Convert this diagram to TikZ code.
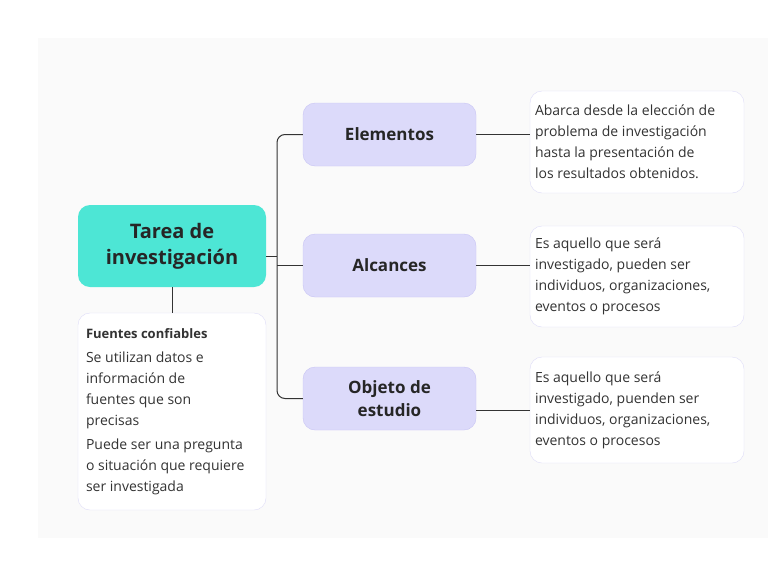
\documentclass[tikz,border=0pt]{standalone}
\usepackage{fontspec}
\setmainfont{Open Sans}
\begin{document}
\begin{tikzpicture}[x=1pt,y=-1pt,
 main/.style={fill=maincol,rounded corners=12pt,align=center,font=\fontsize{20}{26}\selectfont\bfseries,text=black!85},
 sub/.style={fill=subfill,draw=subdraw,rounded corners=12pt,align=center,font=\fontsize{17}{23}\selectfont\bfseries,text=black!85},
 desc/.style={fill=white,draw=subdraw!60,rounded corners=12pt,align=flush left,font=\fontsize{14}{21}\selectfont,text=black!80},
 ln/.style={draw=black!80,line width=1pt}]
\definecolor{maincol}{HTML}{4DE6D5}
\definecolor{subfill}{HTML}{DCDAFA}
\definecolor{subdraw}{HTML}{C8C4F4}
\useasboundingbox (0,0) rectangle (768,576);
\fill[white] (0,0) rectangle (768,576);
\fill[black!2] (38,38) rectangle (768,538);
\node[main,minimum width=188pt,minimum height=82pt] (m) at (172,246) {Tarea de\\investigación};
\node[sub,minimum width=173pt,minimum height=63pt] (e) at (389.5,134.5) {Elementos};
\node[sub,minimum width=173pt,minimum height=63pt] (a) at (389.5,265.5) {Alcances};
\node[sub,minimum width=173pt,minimum height=63pt] (o) at (389.5,398.5) {Objeto de\\estudio};
\node[desc,minimum width=214pt,minimum height=102pt,text width=204pt] (d1) at (637,142) {Abarca desde la elección de\\problema de investigación\\hasta la presentación de\\los resultados obtenidos.};
\node[desc,minimum width=214pt,minimum height=101pt,text width=204pt] (d2) at (637,276.5) {Es aquello que será\\investigado, pueden ser\\individuos, organizaciones,\\eventos o procesos};
\node[desc,minimum width=214pt,minimum height=106pt,text width=204pt] (d3) at (637,410) {Es aquello que será\\investigado, puenden ser\\individuos, organizaciones,\\eventos o procesos};
\node[desc,minimum width=188pt,minimum height=197pt,text width=172pt,font=\fontsize{14}{21}\selectfont] (f) at (172,411.5) {{\bfseries\fontsize{13}{18}\selectfont Fuentes confiables}\\[3pt]Se utilizan datos e\\información de\\fuentes que son\\precisas\\[3pt]Puede ser una pregunta\\o situación que requiere\\ser investigada};
\coordinate (s) at (277,256);
\draw[ln] (266,256) -- (s);
\draw[ln,rounded corners=8pt] (e.west) -| (s) |- (o.west);
\draw[ln] (277,265.5) -- (a.west);
\draw[ln] (m.south) -- (f.north);
\draw[ln] (e.east) -- (d1.west|-e.east);
\draw[ln] (a.east) -- (d2.west|-a.east);
\draw[ln] (o.east|-d3.west) -- (d3.west);
\end{tikzpicture}
\end{document}
